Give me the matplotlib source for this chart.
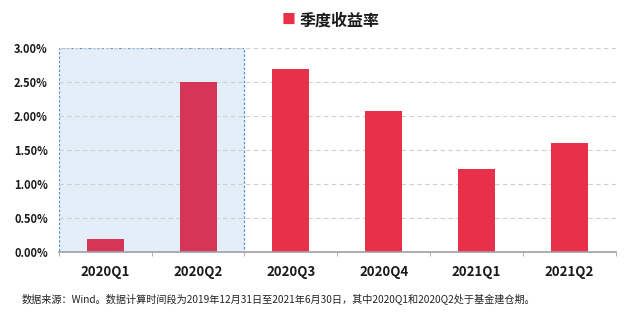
import numpy as np
import matplotlib
matplotlib.use("Agg")
import matplotlib.pyplot as plt
from matplotlib.ticker import FuncFormatter, FixedLocator

plt.rcParams['font.family'] = ['Noto Sans CJK SC', 'DejaVu Sans']

# --- data ---
quarters = ['2020Q1', '2020Q2', '2020Q3', '2020Q4', '2021Q1', '2021Q2']
returns = [0.19, 2.51, 2.69, 2.08, 1.22, 1.60]   # 季度收益率, %
build_period = ['2020Q1', '2020Q2']              # 建仓期
series_name = '季度收益率'
note = '数据来源：Wind。数据计算时间段为2019年12月31日至2021年6月30日，其中2020Q1和2020Q2处于基金建仓期。'

red = '#E8304A'
red_shaded = '#D63558'

fig = plt.figure(figsize=(6.4, 3.28), dpi=100)
ax = fig.add_axes([0.092, 0.231, 0.870, 0.622])

x = np.arange(len(quarters))
colors = [red_shaded if q in build_period else red for q in quarters]
ax.bar(x, returns, width=0.4, color=colors, zorder=3)

# shaded build-up period (under the grid)
idx = [quarters.index(q) for q in build_period]
ax.axvspan(min(idx) - 0.5, max(idx) + 0.5, ymin=0, ymax=1, facecolor='#E4EEF8',
           edgecolor='#5A92CC', linestyle=(0, (2, 1.5)), linewidth=0.9, zorder=0.2)

ax.set_xlim(-0.5, len(quarters) - 0.5)
ax.set_ylim(0, 3.0)
ax.set_yticks(np.arange(0, 3.01, 0.5))
ax.yaxis.set_major_formatter(FuncFormatter(lambda v, p: f'{v:.2f}%'))
ax.yaxis.grid(True, color='#CFCFCF', linestyle=(0, (4, 3)), linewidth=0.8)
ax.set_axisbelow(True)

ax.set_xticks(x)
ax.set_xticklabels(quarters)
ax.xaxis.set_minor_locator(FixedLocator(np.arange(-0.5, len(quarters), 1.0)))
ax.tick_params(axis='x', which='major', length=0, pad=9, labelsize=9.5)
ax.tick_params(axis='x', which='minor', length=3, color='#A0A0A0', direction='out')
ax.tick_params(axis='y', length=0, pad=8, labelsize=8)
for lab in ax.get_xticklabels() + ax.get_yticklabels():
    lab.set_fontweight('bold')
    lab.set_color('#1A1A1A')

for s in ['left', 'right', 'top']:
    ax.spines[s].set_visible(False)
ax.spines['bottom'].set_color('#A0A0A0')
ax.spines['bottom'].set_linewidth(1.2)
ax.spines['bottom'].set_zorder(4)

# legend at top
fig.text(0.451, 0.938, '■', color=red, fontsize=10, ha='center', va='center')
fig.text(0.468, 0.938, series_name, fontsize=11.5, fontweight='bold', ha='left',
         va='center', color='#1A1A1A')

fig.text(0.034, 0.090, note, fontsize=7.3, ha='left', va='center', color='#222222')

fig.savefig('out.png', dpi=100)
